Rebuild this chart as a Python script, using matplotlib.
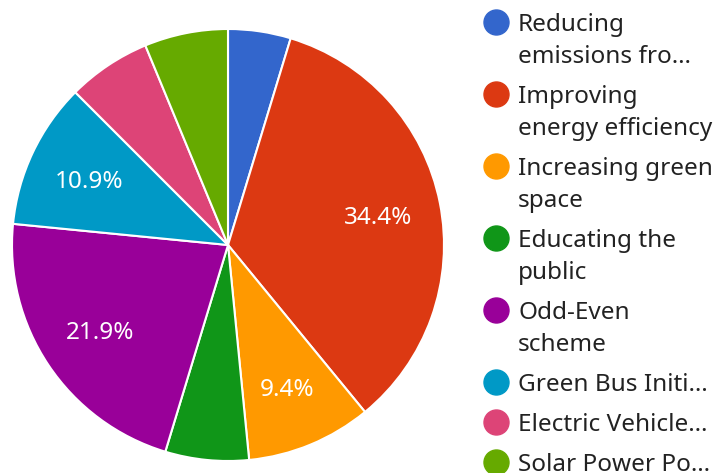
import matplotlib
matplotlib.use("Agg")
import matplotlib.pyplot as plt

labels = ["Reducing\nemissions fro…", "Improving\nenergy efficiency", "Increasing green\nspace",
          "Educating the\npublic", "Odd-Even\nscheme", "Green Bus Initi…", "Electric Vehicle…",
          "Solar Power Po…"]
counts = [3, 22, 6, 4, 14, 7, 4, 4]
colors = ["#3366cc", "#dc3912", "#ff9900", "#109618", "#990099", "#0099c6", "#dd4477", "#66aa00"]

plt.rcParams['font.family'] = ['Noto Sans', 'DejaVu Sans']

W, H = 713, 473
FS = 17.5
fig = plt.figure(figsize=(W / 100, H / 100), dpi=100)
ax = fig.add_axes([0, 0, 1, 1])
ax.set_axis_off()

cx, cy, R = 228, H - 245, 216

def fmt(p):
    return f"{p:.1f}%" if p >= 8 else ""

wedges, texts, autotexts = ax.pie(
    counts, colors=colors, startangle=90, counterclock=False,
    center=(cx, cy), radius=R, autopct=fmt, pctdistance=0.71,
    wedgeprops=dict(edgecolor="white", linewidth=1.5),
    textprops=dict(color="white", fontsize=FS), frame=True)
for t in autotexts:
    t.set_color("white")
    t.set_fontsize(FS)
    t.set_va("center_baseline")

ax.set_xlim(0, W)
ax.set_ylim(0, H)
ax.set_aspect('auto')

# legend
y = 22
for lab, col in zip(labels, colors):
    ax.scatter([496], [H - y], s=(25 * 0.72) ** 2, color=col, zorder=5, clip_on=False)
    for i, line in enumerate(lab.split("\n")):
        ax.text(518, H - (y + 8.7 + 32 * i), line, fontsize=FS, color="#222222",
                va="baseline", ha="left")
    nlines = lab.count("\n") + 1
    y += 40 + 32 * (nlines - 1)

fig.savefig("out.png", dpi=100, facecolor="white")
